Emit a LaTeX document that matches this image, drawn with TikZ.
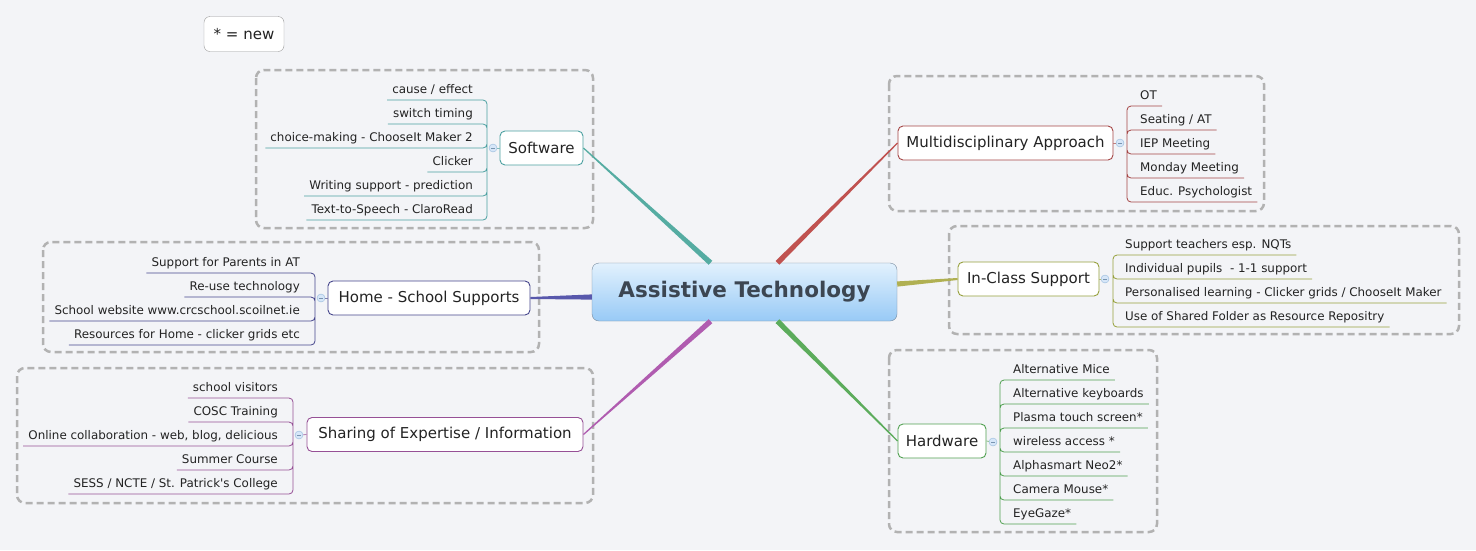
\documentclass[tikz,border=0pt]{standalone}
\usepackage{fontspec}
\setmainfont{DejaVu Sans}
\usepackage{xcolor}
\definecolor{BgGray}   {RGB}{243, 244, 247}
\definecolor{BoxGray}  {RGB}{178, 178, 178}
\definecolor{TextDark} {RGB}{ 35,  35,  35}
\definecolor{CtrText}  {RGB}{ 60,  70,  82}
\definecolor{CtrTop}   {RGB}{226, 241, 253}
\definecolor{CtrBot}   {RGB}{152, 202, 246}
\definecolor{CtrEdge}  {RGB}{115, 135, 155}
\definecolor{FoldFill} {RGB}{214, 230, 248}
\definecolor{FoldEdge} {RGB}{150, 185, 220}
\definecolor{SwTeal}   {RGB}{ 75, 160, 160}
\definecolor{MdRed}    {RGB}{165,  70,  70}
\definecolor{IcOlive}  {RGB}{150, 160,  60}
\definecolor{HwGreen}  {RGB}{ 80, 160,  80}
\definecolor{HsNavy}   {RGB}{ 70,  70, 140}
\definecolor{ShPurple} {RGB}{150,  80, 150}
\definecolor{LnTeal}   {RGB}{ 85, 172, 162}
\definecolor{LnRed}    {RGB}{192,  82,  80}
\definecolor{LnNavy}   {RGB}{ 88,  88, 172}
\definecolor{LnPurple} {RGB}{176,  92, 176}
\definecolor{LnOlive}  {RGB}{176, 176,  82}
\definecolor{LnGreen}  {RGB}{ 92, 172,  92}
\usetikzlibrary{positioning, calc}

\begin{document}
\begin{tikzpicture}[
  x=1pt, y=-1pt,
  groupbox/.style={
    draw=BoxGray, line width=2.5pt,
    dash pattern=on 7pt off 4pt,
    rounded corners=8pt},
  topic/.style={
    draw=#1, fill=white,
    line width=0.9pt,
    rounded corners=5pt,
    minimum height=34pt,
    inner xsep=6pt,
    text=TextDark,
    font=\fontsize{15}{17}\selectfont},
  leafl/.style={
    anchor=south east,
    inner xsep=5pt, inner ysep=3pt,
    text height=9pt, text depth=3pt,
    text=TextDark,
    font=\fontsize{11.9}{13}\selectfont},
  leafr/.style={leafl, anchor=south west},
  twig/.style={
    draw=#1, line width=0.8pt,
    rounded corners=4pt},
  fold/.style={
    circle, draw=FoldEdge, fill=FoldFill,
    minimum size=8pt, inner sep=0pt,
    path picture={\draw[FoldEdge!80!black, line width=0.6pt]
      ([xshift=-2pt]path picture bounding box.center) --
      ([xshift=2pt]path picture bounding box.center);}},
  hub/.style={
    draw=CtrEdge, rounded corners=7pt,
    top color=CtrTop, bottom color=CtrBot,
    minimum width=305pt, minimum height=58pt,
    text=CtrText,
    font=\bfseries\fontsize{21.5}{24}\selectfont}
]

\useasboundingbox (0,0) rectangle (1476,550);
\fill[BgGray] (0,0) rectangle (1476,550);

% legend
\node[draw=gray!80, fill=white, rounded corners=6pt,
  minimum width=80pt, minimum height=35pt,
  font=\fontsize{15}{17}\selectfont, text=TextDark]
  (legend) at (244,34) {* = new};

% group frames
\draw[groupbox] (256,70) rectangle (593,228);
\draw[groupbox] (43,242) rectangle (539,352);
\draw[groupbox] (17,368) rectangle (593,503);
\draw[groupbox] (889,76) rectangle (1264,211);
\draw[groupbox] (949,226) rectangle (1459,334);
\draw[groupbox] (889,350) rectangle (1157,532);

% centre
\node[hub] (at) at (744.5,292) {Assistive Technology};

% main topics
\node[topic=SwTeal, minimum width=83pt] (sw) at (541.5,148) {Software};
\node[topic=HsNavy, minimum width=202pt] (hs) at (429,298) {Home - School Supports};
\node[topic=ShPurple, minimum width=276pt] (sh) at (445,434.5) {Sharing of Expertise / Information};
\node[topic=MdRed, minimum width=215pt] (md) at (1005.5,143) {Multidisciplinary Approach};
\node[topic=IcOlive, minimum width=141pt] (ic) at (1028.5,279) {In-Class Support};
\node[topic=HwGreen, minimum width=88pt] (hw) at (942,441) {Hardware};

% tapered branches from the centre
\coordinate (at-sw) at ($(at.north)+(-34,0)$);
\coordinate (at-md) at ($(at.north)+(33,0)$);
\coordinate (at-sh) at ($(at.south)+(-34,0)$);
\coordinate (at-hw) at ($(at.south)+(33,0)$);
\coordinate (at-hs) at ($(at.west)+(0,5)$);
\coordinate (at-ic) at ($(at.east)+(0,-8)$);
\fill[LnTeal] ($(at-sw)!2.7pt!90:(sw.east)$) -- ($(sw.east)!0.6pt!-90:(at-sw)$)
  -- ($(sw.east)!0.6pt!90:(at-sw)$) -- ($(at-sw)!2.7pt!-90:(sw.east)$) -- cycle;
\fill[LnRed] ($(at-md)!2.7pt!90:(md.west)$) -- ($(md.west)!0.6pt!-90:(at-md)$)
  -- ($(md.west)!0.6pt!90:(at-md)$) -- ($(at-md)!2.7pt!-90:(md.west)$) -- cycle;
\fill[LnPurple] ($(at-sh)!2.7pt!90:(sh.east)$) -- ($(sh.east)!0.6pt!-90:(at-sh)$)
  -- ($(sh.east)!0.6pt!90:(at-sh)$) -- ($(at-sh)!2.7pt!-90:(sh.east)$) -- cycle;
\fill[LnGreen] ($(at-hw)!2.7pt!90:(hw.west)$) -- ($(hw.west)!0.6pt!-90:(at-hw)$)
  -- ($(hw.west)!0.6pt!90:(at-hw)$) -- ($(at-hw)!2.7pt!-90:(hw.west)$) -- cycle;
\fill[LnNavy] ($(at-hs)!2.6pt!90:(hs.east)$) -- ($(hs.east)!1pt!-90:(at-hs)$)
  -- ($(hs.east)!1pt!90:(at-hs)$) -- ($(at-hs)!2.6pt!-90:(hs.east)$) -- cycle;
\fill[LnOlive] ($(at-ic)!2.6pt!90:(ic.west)$) -- ($(ic.west)!1pt!-90:(at-ic)$)
  -- ($(ic.west)!1pt!90:(at-ic)$) -- ($(at-ic)!2.6pt!-90:(ic.west)$) -- cycle;

% Software
\node[fold] (swf) at (493,148) {};
\coordinate (swj) at (487,148);
\node[leafl] (sw1) at (478,100) {cause / effect};
\node[leafl] (sw2) at (478,124) {switch timing};
\node[leafl] (sw3) at (478,148) {choice-making - ChooseIt Maker 2};
\node[leafl] (sw4) at (478,172) {Clicker};
\node[leafl] (sw5) at (478,196) {Writing support - prediction};
\node[leafl] (sw6) at (478,220) {Text-to-Speech - ClaroRead};
\draw[twig=SwTeal!70] (sw.west) -- (swf);
\draw[twig=SwTeal] (swj) |- (sw1.south west) (swj) |- (sw2.south west)
  (swj) |- (sw3.south west) (swj) |- (sw4.south west)
  (swj) |- (sw5.south west) (swj) |- (sw6.south west);

% Home - School Supports
\node[fold] (hsf) at (321,298) {};
\coordinate (hsj) at (315,298);
\node[leafl] (hs1) at (305,273) {Support for Parents in AT};
\node[leafl] (hs2) at (305,297) {Re-use technology};
\node[leafl] (hs3) at (305,321) {School website www.crcschool.scoilnet.ie};
\node[leafl] (hs4) at (305,345) {Resources for Home - clicker grids etc};
\draw[twig=HsNavy!70] (hs.west) -- (hsf);
\draw[twig=HsNavy] (hsj) |- (hs1.south west) (hsj) |- (hs2.south west)
  (hsj) |- (hs3.south west) (hsj) |- (hs4.south west);

% Sharing of Expertise
\node[fold] (shf) at (299,435) {};
\coordinate (shj) at (293,435);
\node[leafl] (sh1) at (283,398) {school visitors};
\node[leafl] (sh2) at (283,422) {COSC Training};
\node[leafl] (sh3) at (283,446) {Online collaboration - web, blog, delicious};
\node[leafl] (sh4) at (283,470) {Summer Course};
\node[leafl] (sh5) at (283,494) {SESS / NCTE / St. Patrick\textquotesingle s College};
\draw[twig=ShPurple!70] (sh.west) -- (shf);
\draw[twig=ShPurple] (shj) |- (sh1.south west) (shj) |- (sh2.south west)
  (shj) |- (sh3.south west) (shj) |- (sh4.south west)
  (shj) |- (sh5.south west);

% Multidisciplinary Approach
\node[fold] (mdf) at (1120,143) {};
\coordinate (mdj) at (1127,143);
\node[leafr] (md1) at (1135,106) {OT};
\node[leafr] (md2) at (1135,130) {Seating / AT};
\node[leafr] (md3) at (1135,154) {IEP Meeting};
\node[leafr] (md4) at (1135,178) {Monday Meeting};
\node[leafr] (md5) at (1135,202) {Educ. Psychologist};
\draw[twig=MdRed!70] (md.east) -- (mdf);
\draw[twig=MdRed] (mdj) |- (md1.south east) (mdj) |- (md2.south east)
  (mdj) |- (md3.south east) (mdj) |- (md4.south east)
  (mdj) |- (md5.south east);

% In-Class Support
\node[fold] (icf) at (1105,279) {};
\coordinate (icj) at (1113,279);
\node[leafr] (ic1) at (1120,255) {Support teachers esp. NQTs};
\node[leafr] (ic2) at (1120,279) {Individual pupils\ \ - 1-1 support};
\node[leafr] (ic3) at (1120,303) {Personalised learning - Clicker grids / ChooseIt Maker};
\node[leafr] (ic4) at (1120,327) {Use of Shared Folder as Resource Repositry};
\draw[twig=IcOlive!70] (ic.east) -- (icf);
\draw[twig=IcOlive] (icj) |- (ic1.south east) (icj) |- (ic2.south east)
  (icj) |- (ic3.south east) (icj) |- (ic4.south east);

% Hardware
\node[fold] (hwf) at (993,442) {};
\coordinate (hwj) at (1000,442);
\node[leafr] (hw1) at (1008,380) {Alternative Mice};
\node[leafr] (hw2) at (1008,404) {Alternative keyboards};
\node[leafr] (hw3) at (1008,428) {Plasma touch screen*};
\node[leafr] (hw4) at (1008,452) {wireless access *};
\node[leafr] (hw5) at (1008,476) {Alphasmart Neo2*};
\node[leafr] (hw6) at (1008,500) {Camera Mouse*};
\node[leafr] (hw7) at (1008,524) {EyeGaze*};
\draw[twig=HwGreen!70] (hw.east) -- (hwf);
\draw[twig=HwGreen] (hwj) |- (hw1.south east) (hwj) |- (hw2.south east)
  (hwj) |- (hw3.south east) (hwj) |- (hw4.south east)
  (hwj) |- (hw5.south east) (hwj) |- (hw6.south east)
  (hwj) |- (hw7.south east);

\end{tikzpicture}
\end{document}
